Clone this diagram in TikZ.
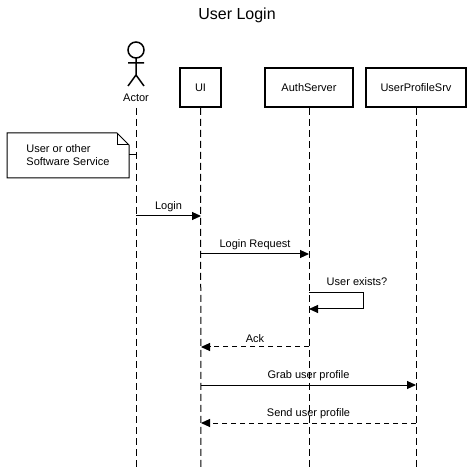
\documentclass[tikz,border=0pt]{standalone}
\usepackage{fontspec}
\setmainfont{Liberation Sans}
\usetikzlibrary{arrows.meta}
\begin{document}
\begin{tikzpicture}[%
            x=1pt, y=-1pt, line width=1pt,
            every node/.style={font=\fontsize{11}{13}\selectfont},
            part/.style={draw, line width=1.8pt, minimum height=39pt, inner sep=0pt},
            life/.style={dash pattern=on 7pt off 4pt},
            msg/.style={-{Triangle[length=9pt,width=8pt]}},
            reply/.style={msg, dash pattern=on 5pt off 4pt},
            txt/.style={above, inner sep=3.5pt}
    ]
        \useasboundingbox (0,0) rectangle (474,470);
        \node [font=\fontsize{16}{18}\selectfont] (title) at (237,15) {User Login};

        % participants
        \node [part, minimum width=41pt] (ui) at (200.5,87.5) {UI};
        \node [part, minimum width=88pt] (auth) at (309,87.5) {AuthServer};
        \node [part, minimum width=100pt] (prof) at (416,87.5) {UserProfileSrv};

        % actor
        \draw [line width=1.5pt] (136,50) circle (8);
        \draw [line width=1.5pt] (136,58) -- (136,75) (128,63) -- (144,63)
            (128,86) -- (136,75) -- (144,86);
        \node (actor) at (136,98) {Actor};

        % lifelines
        \coordinate (a0) at (136,108);  \coordinate (a1) at (136,470);
        \coordinate (u1) at (201,470);  \coordinate (s1) at (309,470);
        \coordinate (p1) at (416,470);
        \draw [life] (a0) -- (a1);
        \draw [life] (ui.south) -- (u1);
        \draw [life] (auth.south) -- (s1);
        \draw [life] (prof.south) -- (p1);

        % note
        \draw [fill=white] (7,133) -- (117,133) -- (129,145) -- (129,178) -- (7,178) -- cycle;
        \draw (117,133) -- (117,145) -- (129,145);
        \node [align=left] (note) at (68,155.5) {User or other\\Software Service};
        \coordinate (n0) at (129,155); \coordinate (n1) at (136,155);
        \draw (n0) -- (n1);

        % messages
        \coordinate (m1a) at (136,216); \coordinate (m1b) at (201,216);
        \draw [msg] (m1a) -- node [txt] {Login} (m1b);
        \coordinate (m2a) at (201,254); \coordinate (m2b) at (309,254);
        \draw [msg] (m2a) -- node [txt] {Login Request} (m2b);
        \coordinate (m3a) at (309,293); \coordinate (m3b) at (309,309);
        \draw [msg] (m3a) -- (363,293) -- (363,309) -- (m3b);
        \node (chk) at (357,282) {User exists?};
        \coordinate (m4a) at (309,347); \coordinate (m4b) at (201,347);
        \draw [reply] (m4a) -- node [txt] {Ack} (m4b);
        \coordinate (m5a) at (201,385); \coordinate (m5b) at (416,385);
        \draw [msg] (m5a) -- node [txt] {Grab user profile} (m5b);
        \coordinate (m6a) at (416,423); \coordinate (m6b) at (201,423);
        \draw [reply] (m6a) -- node [txt] {Send user profile} (m6b);
\end{tikzpicture}
\end{document}
